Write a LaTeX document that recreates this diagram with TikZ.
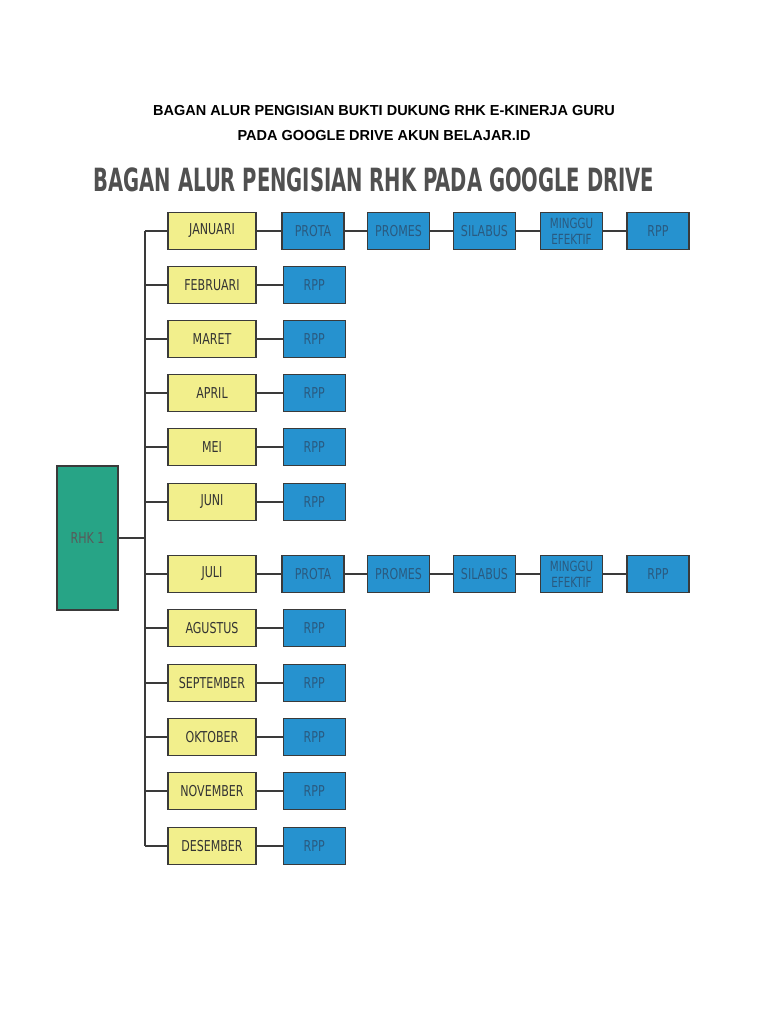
\documentclass[tikz,border=0pt]{standalone}
\usepackage{fontspec}
\usepackage{graphicx}
\setmainfont{Liberation Sans}
\newfontfamily\condfont{DejaVu Sans Condensed}
\newcommand\sqz[1]{\scalebox{0.82}[1]{#1}}
\definecolor{ybox}{HTML}{F2EF8C}
\definecolor{bbox}{HTML}{2692CF}
\definecolor{tbox}{HTML}{27A486}
\definecolor{edge}{HTML}{3A3A3A}
\definecolor{btext}{HTML}{2A5A80}
\definecolor{ttext}{HTML}{505050}
\begin{document}
\begin{tikzpicture}[x=1pt,y=-1pt,
  month/.style={draw=edge,line width=1.2pt,fill=ybox,minimum width=88pt,minimum height=37pt,inner sep=0pt,font=\condfont\fontsize{15}{15}\selectfont,text=black!80},
  doc/.style={draw=edge,line width=1.2pt,fill=bbox,minimum width=62pt,minimum height=37pt,inner sep=0pt,font=\condfont\fontsize{15}{15}\selectfont,text=btext,align=center},
  link/.style={draw=edge,line width=1.3pt}]
\useasboundingbox (0,0) rectangle (768,1024);
\fill[white] (0,0) rectangle (768,1024);
\node[font=\bfseries\fontsize{14.5}{14.5}\selectfont] (t1) at (384,111) {BAGAN ALUR PENGISIAN BUKTI DUKUNG RHK E-KINERJA GURU};
\node[font=\bfseries\fontsize{14.5}{14.5}\selectfont] (t2) at (384,136) {PADA GOOGLE DRIVE AKUN BELAJAR.ID};
\node[font=\condfont\bfseries\fontsize{32}{32}\selectfont,text=ttext,inner sep=0pt] (t3) at (374,180) {\scalebox{0.68}[1]{BAGAN ALUR PENGISIAN RHK PADA GOOGLE DRIVE}};
\node[draw=edge,line width=1.2pt,fill=tbox,minimum width=61pt,minimum height=144pt,inner sep=0pt,font=\condfont\fontsize{15}{15}\selectfont,text=black!65] (rhk) at (87.5,538) {\sqz{RHK 1}};
\coordinate (top) at (145,231);
\coordinate (bot) at (145,846);
\draw[link] (top) -- (bot);
\draw[link] (rhk.east) -- (145,538);
\foreach \name/\lab/\y in {jan/JANUARI/231,feb/FEBRUARI/285,mar/MARET/339,apr/APRIL/393,mei/MEI/447,jun/JUNI/502,jul/JULI/574,agu/AGUSTUS/628,sep/SEPTEMBER/683,okt/OKTOBER/737,nov/NOVEMBER/791,des/DESEMBER/846}{
  \node[month] (\name) at (212,\y) {\sqz{\lab}};
  \draw[link] (145,\y) -- (\name.west);
}
\foreach \name in {feb,mar,apr,mei,jun,agu,sep,okt,nov,des}{
  \node[doc,anchor=west] (\name rpp) at ([xshift=26pt]\name.east) {\sqz{RPP}};
  \draw[link] (\name.east) -- (\name rpp.west);
}
\foreach \name in {jan,jul}{
  \node[doc] (\name a) at (313,0 |- \name) {\sqz{PROTA}};
  \node[doc] (\name b) at (398.5,0 |- \name) {\sqz{PROMES}};
  \node[doc] (\name c) at (484.5,0 |- \name) {\sqz{SILABUS}};
  \node[doc,font=\condfont\fontsize{14}{17}\selectfont] (\name d) at (571.5,0 |- \name) {\sqz{MINGGU}\\[-1pt]\sqz{EFEKTIF}};
  \node[doc] (\name e) at (658,0 |- \name) {\sqz{RPP}};
  \draw[link] (\name.east) -- (\name a.west);
  \draw[link] (\name a.east) -- (\name b.west);
  \draw[link] (\name b.east) -- (\name c.west);
  \draw[link] (\name c.east) -- (\name d.west);
  \draw[link] (\name d.east) -- (\name e.west);
}
\end{tikzpicture}
\end{document}
